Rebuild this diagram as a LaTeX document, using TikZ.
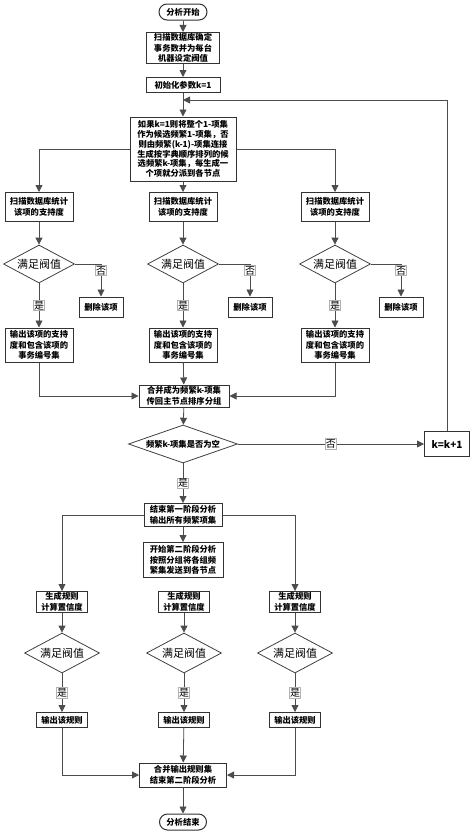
\documentclass[tikz,border=0pt]{standalone}
\usepackage{fontspec}
\setmainfont{Noto Sans CJK SC}
\usetikzlibrary{shapes.geometric,arrows.meta}

\tikzset{
  box/.style={draw=black!80, line width=1pt, fill=white, align=center, inner sep=1pt,
    font=\bfseries\fontsize{8.3}{10.5}\selectfont},
  term/.style={box, rounded corners=8pt, minimum width=48pt, minimum height=16pt},
  cond/.style={diamond, draw=black!75, line width=0.8pt, fill=white, inner sep=0pt, aspect=1.9,
    font=\fontsize{11}{11}\selectfont},
  lbl/.style={draw=black!30, fill=white, inner sep=0.8pt, font=\fontsize{10}{10}\selectfont},
  arr/.style={draw=black!70, line width=0.8pt, -{Triangle[length=7pt,width=7pt]}},
  ln/.style={draw=black!70, line width=0.8pt}
}

\begin{document}
\begin{tikzpicture}[x=1pt, y=-1pt]
\useasboundingbox (0,0) rectangle (474,835);

% first phase
\node[term] (begin) at (183,12) {分析开始};
\node[box, minimum width=73pt, minimum height=31pt] (scandb) at (183,48) {扫描数据库确定\\事务数并为每台\\机器设定阀值};
\node[box, minimum width=74pt, minimum height=15pt] (init) at (183,85) {初始化参数k=1};
\coordinate (back) at (183,100);
\node[box, minimum width=106pt, minimum height=64pt, font=\bfseries\fontsize{8.3}{9.8}\selectfont] (cand) at (183,149)
  {如果k=1则将整个1-项集\\作为候选频繁1-项集，否\\则由频繁(k-1)-项集连接\\生成按字典顺序排列的候\\选频繁k-项集，每生成一\\个项就分派到各节点};

\foreach \n/\x/\d in {L/39/101, M/183/250, R/335/401} {
  \node[box, minimum width=68pt, minimum height=29pt] (scan\n) at (\x,207) {扫描数据库统计\\该项的支持度};
  \node[cond, minimum width=71pt, minimum height=38pt] (chk\n) at (\x,264) {满足阀值};
  \node[box, minimum width=44pt, minimum height=20pt] (del\n) at (\d,307) {删除该项};
  \node[box, minimum width=68pt, minimum height=34pt] (out\n) at (\x,345) {输出该项的支持\\度和包含该项的\\事务编号集};
  \draw[arr] (scan\n) -- (chk\n);
  \draw[arr] (chk\n.east) -| node[lbl, pos=0.6] {否} (del\n);
  \draw[arr] (chk\n) -- node[lbl] {是} (out\n);
}

\node[box, minimum width=90pt, minimum height=22pt] (merge) at (184,396) {合并成为频繁k-项集\\传回主节点排序分组};
\node[cond, aspect=2.9, minimum width=109pt, minimum height=38pt, font=\bfseries\fontsize{8.3}{9}\selectfont] (empty) at (183,444) {频繁k-项集是否为空};
\node[box, minimum width=45pt, minimum height=25pt, font=\bfseries\fontsize{10}{10}\selectfont] (inc) at (447,444) {k=k+1};

\draw[arr] (begin) -- (scandb);
\draw[arr] (scandb) -- (init);
\draw[arr] (init) -- (cand);
\draw[arr] (cand.west) -| (scanL);
\draw[arr] (cand) -- (scanM);
\draw[arr] (cand.east) -| (scanR);
\draw[arr] (outL) |- (merge.west);
\draw[arr] (outM) -- (merge);
\draw[arr] (outR) |- (merge.east);
\draw[arr] (merge) -- (empty);
\draw[arr] (empty) -- node[lbl] {否} (inc);
\draw[arr] (inc) |- (back);

% second phase
\node[box, minimum width=78pt, minimum height=23pt] (end1) at (183,515) {结束第一阶段分析\\输出所有频繁项集};
\node[box, minimum width=80pt, minimum height=35pt] (phase2) at (183,560) {开始第二阶段分析\\按照分组将各组频\\繁集发送到各节点};
\draw[arr] (empty) -- node[lbl] {是} (end1);
\draw[arr] (end1) -- (phase2);

\foreach \n/\x in {L/62, M/184, R/295} {
  \node[box, minimum width=51pt, minimum height=21pt] (gen\n) at (\x,602) {生成规则\\计算置信度};
  \node[cond, minimum width=75pt, minimum height=40pt] (rchk\n) at (\x,653) {满足阀值};
  \node[box, minimum width=51pt, minimum height=15pt] (rule\n) at (\x,720) {输出该规则};
  \draw[arr] (gen\n) -- (rchk\n);
  \draw[arr] (rchk\n) -- node[lbl] {是} (rule\n);
}
\draw[arr] (end1.west) -| (genL);
\draw[arr] (end1.east) -| (genR);

\node[box, minimum width=87pt, minimum height=24pt] (final) at (183,775) {合并输出规则集\\结束第二阶段分析};
\node[term, minimum width=47pt] (stop) at (183,822) {分析结束};
\draw[arr] (ruleL) |- (final.west);
\draw[arr] (ruleM) -- (final);
\draw[arr] (ruleR) |- (final.east);
\draw[arr] (final) -- (stop);
\end{tikzpicture}
\end{document}
